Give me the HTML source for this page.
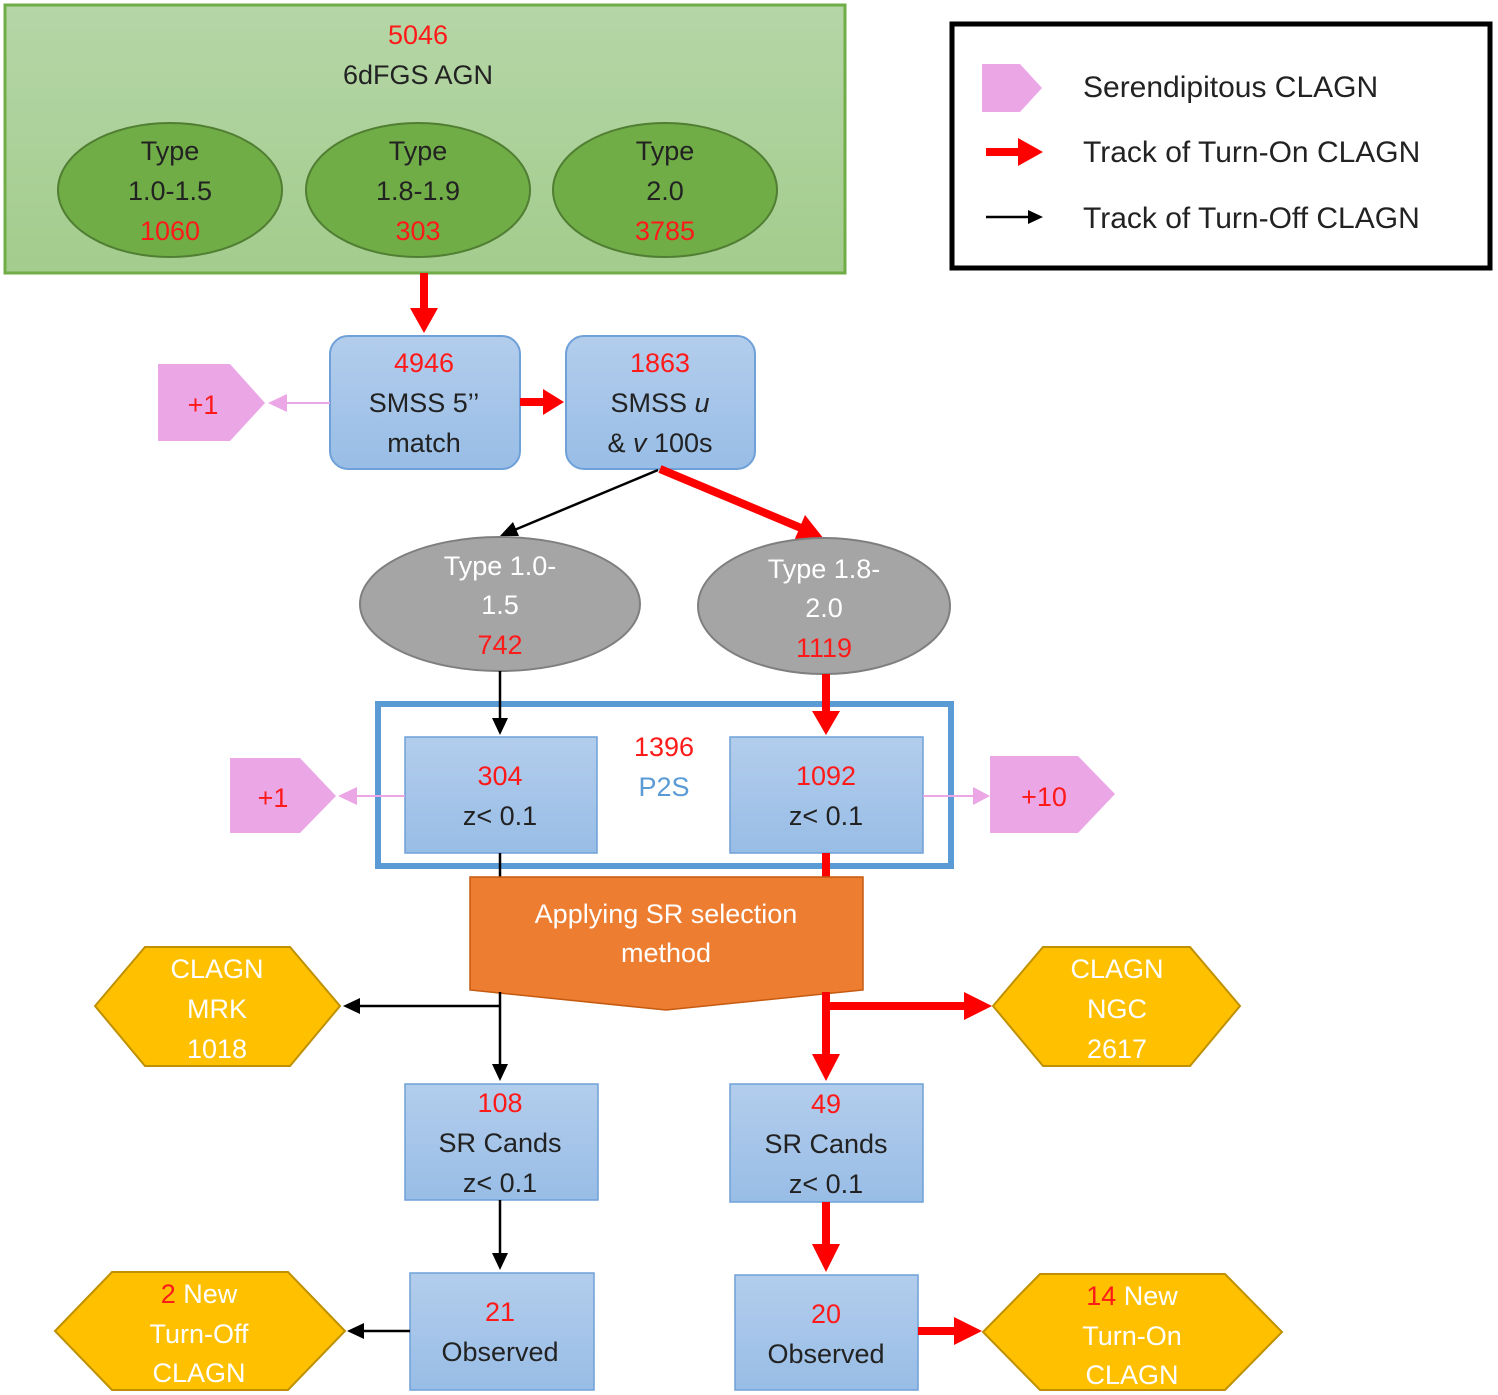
<!DOCTYPE html>
<html><head><meta charset="utf-8"><style>
html,body{margin:0;padding:0;background:#fff;}
svg{display:block;font-family:"Liberation Sans",sans-serif;}
text{font-size:27px;text-anchor:middle;}
.r{fill:#ff1a1a}.k{fill:#222}.w{fill:#fff}.b{fill:#5b9bd5}
.lg{font-size:30px;text-anchor:start;fill:#222}
</style></head><body>
<svg width="1498" height="1395" viewBox="0 0 1498 1395" xmlns="http://www.w3.org/2000/svg">
<defs>
<linearGradient id="bl" x1="0" y1="0" x2="0" y2="1"><stop offset="0" stop-color="#b3cdec"/><stop offset="1" stop-color="#98bde6"/></linearGradient>
<linearGradient id="gr" x1="0" y1="0" x2="0" y2="1"><stop offset="0" stop-color="#b5d6a7"/><stop offset="1" stop-color="#a3cc8d"/></linearGradient>
</defs>
<rect x="5" y="5" width="840" height="268" fill="url(#gr)" stroke="#70ad47" stroke-width="3"/>
<text x="418" y="44" class="r">5046</text>
<text x="418" y="84" class="k">6dFGS AGN</text>
<g fill="#70ad47" stroke="#507e32" stroke-width="2">
<ellipse cx="170" cy="190" rx="112" ry="67"/><ellipse cx="418" cy="190" rx="112" ry="67"/><ellipse cx="665" cy="190" rx="112" ry="67"/></g>
<text x="170" y="160" class="k">Type</text><text x="170" y="200" class="k">1.0-1.5</text><text x="170" y="240" class="r">1060</text>
<text x="418" y="160" class="k">Type</text><text x="418" y="200" class="k">1.8-1.9</text><text x="418" y="240" class="r">303</text>
<text x="665" y="160" class="k">Type</text><text x="665" y="200" class="k">2.0</text><text x="665" y="240" class="r">3785</text>
<rect x="952" y="24" width="538" height="244" fill="#fff" stroke="#000" stroke-width="5"/>
<polygon points="982,64 1020,64 1042,88 1020,112 982,112" fill="#eba6e6"/>
<text x="1083" y="97" class="lg">Serendipitous CLAGN</text>
<line x1="986" y1="152" x2="1020" y2="152" stroke="#ff0000" stroke-width="8"/><polygon points="1018,138 1043,152 1018,166" fill="#ff0000"/>
<text x="1083" y="162" class="lg">Track of Turn-On CLAGN</text>
<line x1="986" y1="217" x2="1032" y2="217" stroke="#000" stroke-width="2.5"/><polygon points="1028,210 1043,217 1028,224" fill="#000"/>
<text x="1083" y="228" class="lg">Track of Turn-Off CLAGN</text>
<line x1="424" y1="273" x2="424" y2="312" stroke="#ff0000" stroke-width="8"/><polygon points="410,308 438,308 424,333" fill="#ff0000"/>
<rect x="330" y="336" width="190" height="133" rx="18" fill="url(#bl)" stroke="#6fa0d8" stroke-width="2"/>
<text x="424" y="372" class="r">4946</text><text x="424" y="412" class="k">SMSS 5’’</text><text x="424" y="452" class="k">match</text>
<rect x="566" y="336" width="189" height="133" rx="18" fill="url(#bl)" stroke="#6fa0d8" stroke-width="2"/>
<text x="660" y="372" class="r">1863</text><text x="660" y="412" class="k">SMSS <tspan font-style="italic">u</tspan></text><text x="660" y="452" class="k">&amp; <tspan font-style="italic">v</tspan> 100s</text>
<line x1="520" y1="402" x2="545" y2="402" stroke="#ff0000" stroke-width="8"/><polygon points="543,389 564,402 543,415" fill="#ff0000"/>
<polygon points="158,364 230,364 265,403 230,441 158,441" fill="#eba6e6"/>
<text x="203" y="414" class="r">+1</text>
<line x1="285" y1="403" x2="330" y2="403" stroke="#eba6e6" stroke-width="2"/><polygon points="268,403 287,394 287,412" fill="#eba6e6"/>
<line x1="658" y1="470" x2="512" y2="531" stroke="#000" stroke-width="2.5"/><polygon points="500,536 513,522 519,536" fill="#000"/>
<line x1="660" y1="469" x2="801" y2="528" stroke="#ff0000" stroke-width="8"/><polygon points="805,515 824,539 794,541" fill="#ff0000"/>
<ellipse cx="500" cy="604" rx="140" ry="67" fill="#a5a5a5" stroke="#7f7f7f" stroke-width="2"/>
<ellipse cx="824" cy="606" rx="126" ry="68" fill="#a5a5a5" stroke="#7f7f7f" stroke-width="2"/>
<text x="500" y="575" class="w">Type 1.0-</text><text x="500" y="614" class="w">1.5</text><text x="500" y="654" class="r">742</text>
<text x="824" y="578" class="w">Type 1.8-</text><text x="824" y="617" class="w">2.0</text><text x="824" y="657" class="r">1119</text>
<rect x="378" y="704" width="573" height="162" fill="none" stroke="#5b9bd5" stroke-width="6"/>
<line x1="500" y1="671" x2="500" y2="722" stroke="#000" stroke-width="2.5"/><polygon points="492,718 508,718 500,735" fill="#000"/>
<line x1="826" y1="674" x2="826" y2="715" stroke="#ff0000" stroke-width="8"/><polygon points="812,711 840,711 826,735" fill="#ff0000"/>
<rect x="405" y="737" width="192" height="116" fill="url(#bl)" stroke="#6fa0d8" stroke-width="1.5"/>
<rect x="730" y="737" width="193" height="116" fill="url(#bl)" stroke="#6fa0d8" stroke-width="1.5"/>
<text x="500" y="785" class="r">304</text><text x="500" y="825" class="k">z&lt; 0.1</text>
<text x="826" y="785" class="r">1092</text><text x="826" y="825" class="k">z&lt; 0.1</text>
<text x="664" y="756" class="r">1396</text><text x="664" y="796" class="b">P2S</text>
<polygon points="230,758 300,758 336,796 300,833 230,833" fill="#eba6e6"/><text x="273" y="807" class="r">+1</text>
<line x1="356" y1="796" x2="405" y2="796" stroke="#eba6e6" stroke-width="2"/><polygon points="338,796 357,787 357,805" fill="#eba6e6"/>
<polygon points="990,756 1078,756 1115,794 1078,833 990,833" fill="#eba6e6"/><text x="1044" y="806" class="r">+10</text>
<line x1="923" y1="796" x2="975" y2="796" stroke="#eba6e6" stroke-width="2"/><polygon points="973,787 990,796 973,805" fill="#eba6e6"/>
<line x1="500" y1="853" x2="500" y2="877" stroke="#000" stroke-width="2.5"/>
<line x1="826" y1="853" x2="826" y2="877" stroke="#ff0000" stroke-width="8"/>
<polygon points="470,877 863,877 863,990 666,1010 470,990" fill="#ed7d31" stroke="#c55a11" stroke-width="1.5"/>
<text x="666" y="923" class="w">Applying SR selection</text><text x="666" y="962" class="w">method</text>
<line x1="500" y1="992" x2="500" y2="1066" stroke="#000" stroke-width="2.5"/><polygon points="492,1064 508,1064 500,1081" fill="#000"/>
<line x1="500" y1="1006" x2="358" y2="1006" stroke="#000" stroke-width="2.5"/><polygon points="360,998 360,1014 343,1006" fill="#000"/>
<line x1="826" y1="992" x2="826" y2="1058" stroke="#ff0000" stroke-width="8"/><polygon points="812,1054 840,1054 826,1081" fill="#ff0000"/>
<line x1="826" y1="1006" x2="968" y2="1006" stroke="#ff0000" stroke-width="8"/><polygon points="964,992 992,1006 964,1020" fill="#ff0000"/>
<g fill="#ffc000" stroke="#bf9000" stroke-width="2">
<polygon points="95,1006 145,947 290,947 340,1006 290,1066 145,1066"/>
<polygon points="993,1006 1043,947 1190,947 1240,1006 1190,1066 1043,1066"/>
<polygon points="55,1331 112,1272 288,1272 345,1331 288,1390 112,1390"/>
<polygon points="983,1332 1040,1274 1225,1274 1282,1332 1225,1390 1040,1390"/>
</g>
<text x="217" y="978" class="w">CLAGN</text><text x="217" y="1018" class="w">MRK</text><text x="217" y="1058" class="w">1018</text>
<text x="1117" y="978" class="w">CLAGN</text><text x="1117" y="1018" class="w">NGC</text><text x="1117" y="1058" class="w">2617</text>
<text x="199" y="1303" class="w"><tspan class="r">2</tspan> New</text><text x="199" y="1343" class="w">Turn-Off</text><text x="199" y="1382" class="w">CLAGN</text>
<text x="1132" y="1305" class="w"><tspan class="r">14</tspan> New</text><text x="1132" y="1345" class="w">Turn-On</text><text x="1132" y="1384" class="w">CLAGN</text>
<rect x="405" y="1084" width="193" height="116" fill="url(#bl)" stroke="#6fa0d8" stroke-width="1.5"/>
<rect x="730" y="1084" width="193" height="118" fill="url(#bl)" stroke="#6fa0d8" stroke-width="1.5"/>
<text x="500" y="1112" class="r">108</text><text x="500" y="1152" class="k">SR Cands</text><text x="500" y="1192" class="k">z&lt; 0.1</text>
<text x="826" y="1113" class="r">49</text><text x="826" y="1153" class="k">SR Cands</text><text x="826" y="1193" class="k">z&lt; 0.1</text>
<line x1="500" y1="1200" x2="500" y2="1255" stroke="#000" stroke-width="2.5"/><polygon points="492,1253 508,1253 500,1270" fill="#000"/>
<line x1="826" y1="1202" x2="826" y2="1248" stroke="#ff0000" stroke-width="8"/><polygon points="812,1244 840,1244 826,1272" fill="#ff0000"/>
<rect x="410" y="1273" width="184" height="117" fill="url(#bl)" stroke="#6fa0d8" stroke-width="1.5"/>
<rect x="735" y="1275" width="183" height="115" fill="url(#bl)" stroke="#6fa0d8" stroke-width="1.5"/>
<text x="500" y="1321" class="r">21</text><text x="500" y="1361" class="k">Observed</text>
<text x="826" y="1323" class="r">20</text><text x="826" y="1363" class="k">Observed</text>
<line x1="410" y1="1331" x2="362" y2="1331" stroke="#000" stroke-width="2.5"/><polygon points="364,1323 364,1339 347,1331" fill="#000"/>
<line x1="918" y1="1331" x2="958" y2="1331" stroke="#ff0000" stroke-width="8"/><polygon points="954,1317 982,1331 954,1345" fill="#ff0000"/>
</svg>
</body></html>
